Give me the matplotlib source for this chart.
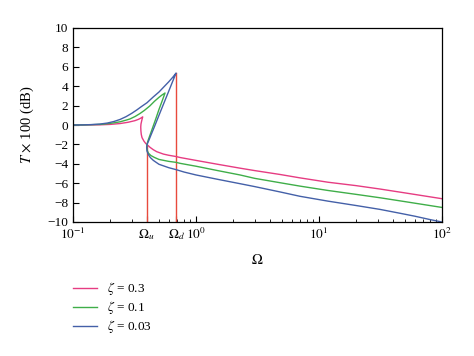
import matplotlib
matplotlib.use("Agg")
import matplotlib.pyplot as plt

plt.rcParams['font.family'] = ['Liberation Serif', 'DejaVu Serif']
plt.rcParams['mathtext.fontset'] = 'stix'

# curve data (Omega, T*100 in dB), ordered along each curve
omega_03 = [0.1, 0.13, 0.166, 0.2, 0.241, 0.28, 0.3192, 0.34, 0.355, 0.3687,
            0.362, 0.357, 0.3555, 0.3565, 0.359, 0.364, 0.3772, 0.39, 0.4066, 0.4227,
            0.45, 0.4792, 0.5437, 0.6, 0.6878, 0.741, 1.0, 1.5, 2.279, 3.0,
            4.819, 7.0, 11.84, 20.0, 31.3, 50.0, 100.0]
t_03 = [0, 0.005, 0.02, 0.06, 0.15, 0.28, 0.45, 0.58, 0.7, 0.84,
        0.45, 0.1, -0.2, -0.6, -0.97, -1.3, -1.66, -1.9, -2.1, -2.3,
        -2.55, -2.75, -3.0, -3.12, -3.25, -3.35, -3.65, -4.05, -4.45, -4.7,
        -5.1, -5.45, -5.9, -6.25, -6.6, -7.0, -7.6]

omega_01 = [0.1, 0.12, 0.14, 0.166, 0.19, 0.215, 0.241, 0.27, 0.29, 0.32,
            0.35, 0.38, 0.42, 0.46, 0.5, 0.53, 0.56,
            0.53, 0.5, 0.47, 0.44, 0.42, 0.405, 0.399, 0.398, 0.401,
            0.41, 0.43, 0.46, 0.5, 0.6, 0.688, 0.741, 1.0, 1.5, 2.279,
            3.0, 4.819, 7.0, 11.84, 20.0, 31.3, 50.0, 100.0]
t_01 = [0, 0.01, 0.03, 0.06, 0.13, 0.22, 0.33, 0.5, 0.62, 0.88,
        1.18, 1.5, 1.95, 2.45, 2.85, 3.1, 3.3,
        2.46, 1.6, 0.6, -0.42, -1.14, -1.7, -2.05, -2.35, -2.6,
        -2.9, -3.15, -3.35, -3.55, -3.75, -3.85, -3.95, -4.25, -4.7, -5.15,
        -5.5, -5.95, -6.3, -6.75, -7.15, -7.5, -7.9, -8.5]

omega_003 = [0.1, 0.12, 0.14, 0.166, 0.19, 0.215, 0.241, 0.27, 0.3, 0.33,
             0.36, 0.4, 0.42, 0.45, 0.5, 0.55, 0.6, 0.65, 0.688,
             0.65, 0.6, 0.55, 0.5, 0.46, 0.43, 0.41, 0.40, 0.397, 0.40,
             0.41, 0.425, 0.45, 0.5, 0.6, 0.688, 0.8, 1.0, 1.5, 2.279,
             3.0, 4.819, 7.0, 11.84, 20.0, 31.3, 45.6, 60.0, 79.9, 100.0]
t_003 = [0, 0.01, 0.04, 0.1, 0.2, 0.36, 0.57, 0.86, 1.2, 1.55,
         1.9, 2.3, 2.55, 2.9, 3.4, 3.95, 4.45, 4.95, 5.35,
         4.58, 3.48, 2.3, 1.0, -0.15, -1.05, -1.7, -2.0, -2.3, -2.7,
         -3.05, -3.35, -3.65, -4.05, -4.4, -4.6, -4.85, -5.15, -5.6, -6.05,
         -6.35, -6.9, -7.35, -7.85, -8.3, -8.7, -9.1, -9.4, -9.75, -10]

omega_u = 0.397
omega_d = 0.688
t_u = -2.2
t_d = 5.35

labels = [r'$\zeta$ = 0.3', r'$\zeta$ = 0.1', r'$\zeta$ = 0.03']
colors = ['#e63c82', '#3fae49', '#4460a8']

fig = plt.figure(figsize=(4.74, 3.56), dpi=100)
ax = fig.add_axes([73 / 474, 1 - 222 / 356, (442 - 73) / 474, (222 - 28) / 356])

# vertical jump lines
ax.plot([omega_u, omega_u], [t_u, -10], color='#e84a3d', lw=1.0)
ax.plot([omega_d, omega_d], [t_d, -10], color='#e84a3d', lw=1.0)

ax.plot(omega_03, t_03, color=colors[0], lw=1.0, label=labels[0])
ax.plot(omega_01, t_01, color=colors[1], lw=1.0, label=labels[1])
ax.plot(omega_003, t_003, color=colors[2], lw=1.0, label=labels[2])

ax.set_xscale('log')
ax.set_xlim(0.1, 100)
ax.set_ylim(-10, 10)
ax.set_yticks(range(-10, 11, 2))
ax.set_yticklabels(['\u2212' + str(-v) if v < 0 else str(v) for v in range(-10, 11, 2)])
ax.set_xticks([0.1, omega_u, omega_d, 1, 10, 100])
ax.set_xticklabels([r'$10^{-1}$', r'$\Omega_u$', r'$\Omega_d$', r'$10^0$', r'$10^1$', r'$10^2$'])

ax.tick_params(direction='in', labelsize=9.5, length=4, width=0.8, top=False, right=False)
ax.tick_params(which='minor', direction='in', length=2, width=0.6)
for s in ax.spines.values():
    s.set_linewidth(0.9)

ax.set_xlabel(r'$\Omega$', fontsize=10.5, labelpad=8)
ax.set_ylabel(r'$T$ $\times$ 100 (dB)', fontsize=10.5, labelpad=8)

ax.legend(loc='upper left', bbox_to_anchor=(0, -0.3), frameon=False, fontsize=9.5,
          borderaxespad=0, borderpad=0, handlelength=1.8, handletextpad=0.75, labelspacing=0.15)

fig.savefig('out.png', dpi=100)
